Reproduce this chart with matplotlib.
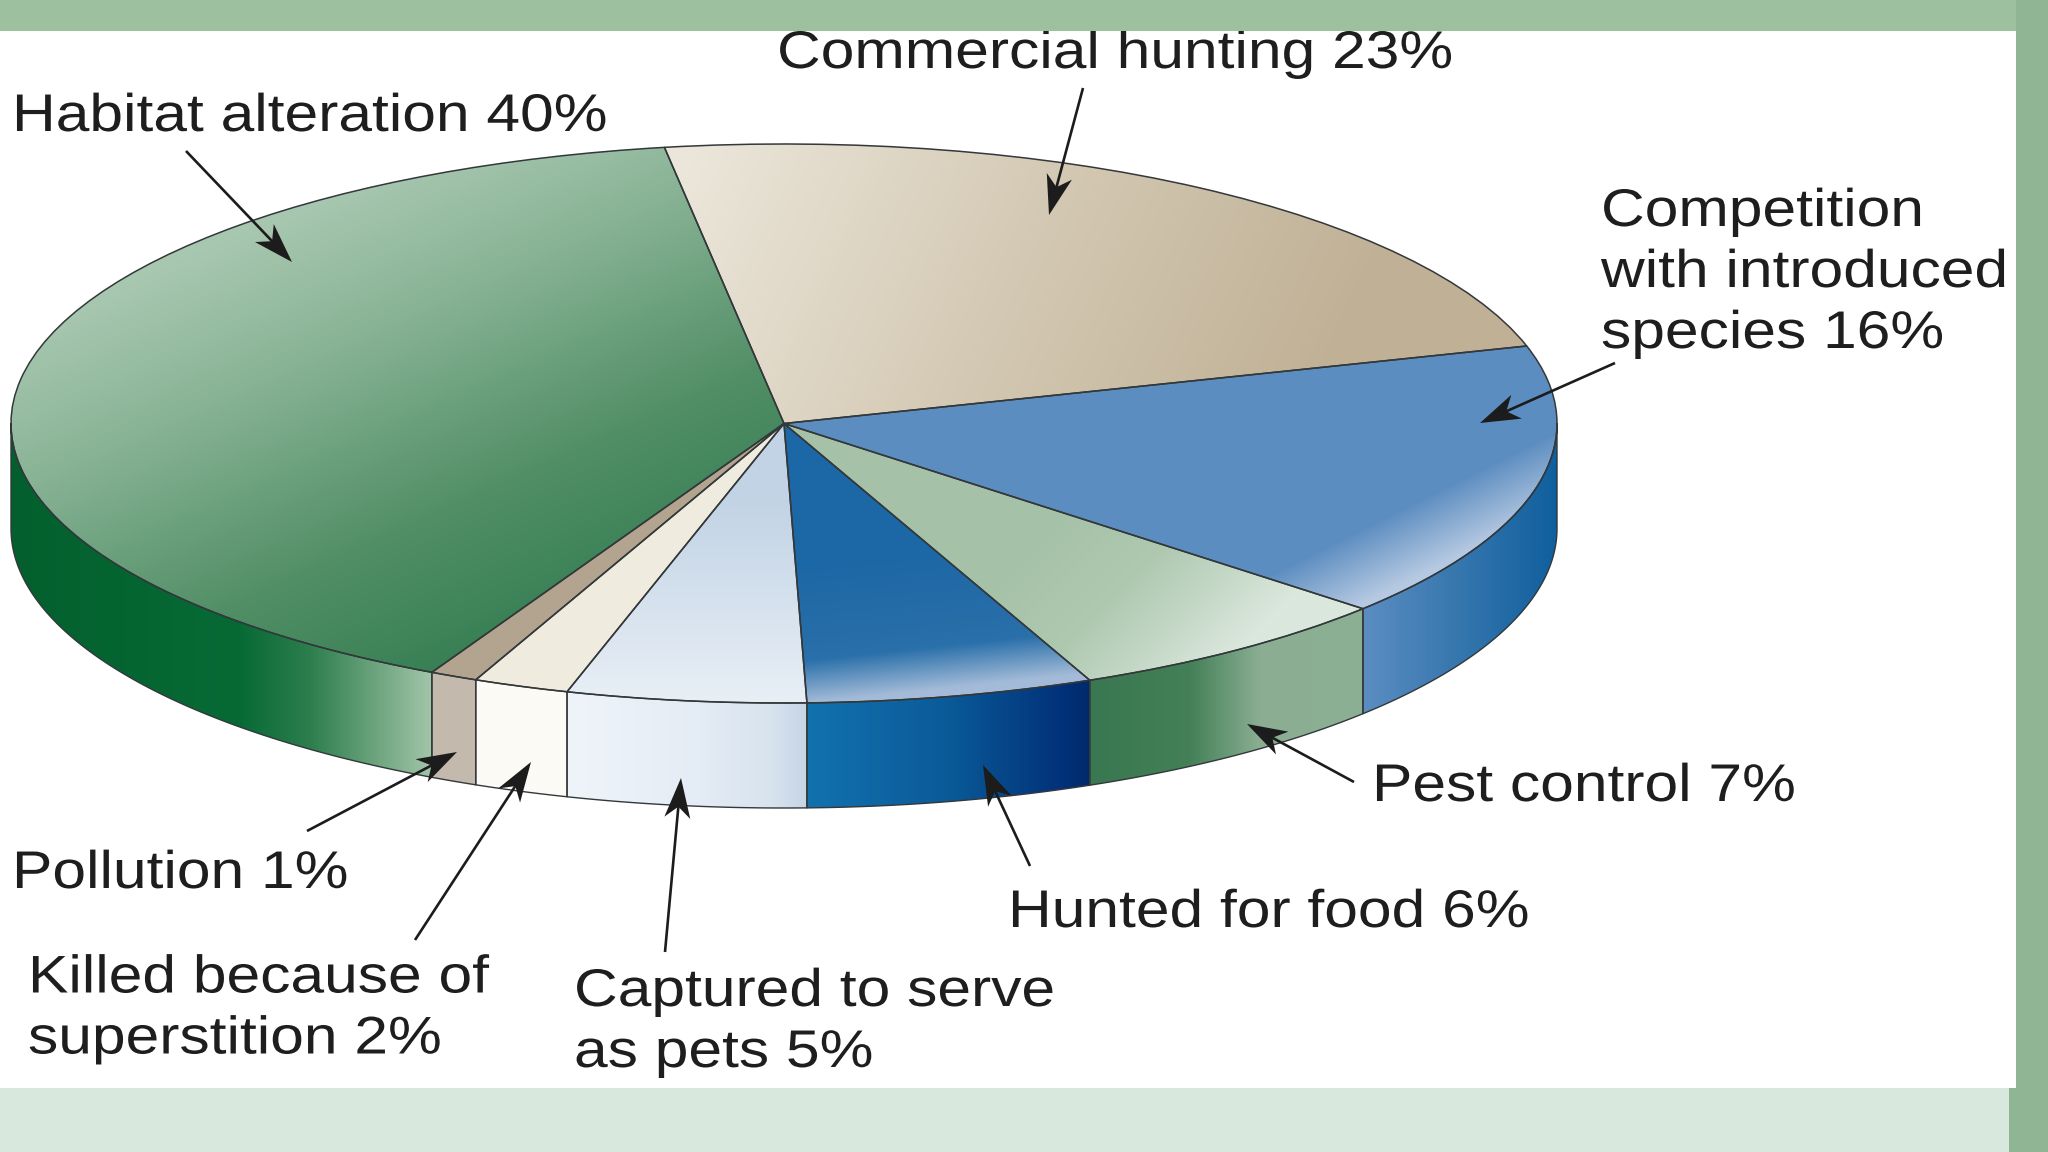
import numpy as np
import matplotlib
matplotlib.use("Agg")
import matplotlib.pyplot as plt
import matplotlib.patheffects as pe
from matplotlib.colors import to_rgb
from matplotlib.patches import Polygon, Rectangle
from matplotlib.transforms import Affine2D

# ---- data ----
slice_names = ["Commercial hunting", "Competition with introduced species", "Pest control",
               "Hunted for food", "Captured to serve as pets", "Killed because of superstition",
               "Pollution", "Habitat alteration"]
slice_values = [23, 16, 7, 6, 5, 2, 1, 40]

label_texts = ["Habitat alteration 40%", "Commercial hunting 23%",
               "Competition\nwith introduced\nspecies 16%", "Pest control 7%",
               "Hunted for food 6%", "Pollution 1%",
               "Killed because of\nsuperstition 2%", "Captured to serve\nas pets 5%"]

# ---- layout (pixels of the 2048x1152 canvas) ----
W, H = 2048, 1152
CX, CY, RX, RY, DEPTH = 784, 423.5, 773, 279.5, 105
START_ANGLE = 98.9
label_pos = [(12, 131), (777, 68), (1601, 226), (1372, 801),
             (1008, 927), (12, 888), (28, 992.5), (574, 1006)]
LINE_STEP = 61
arrows = [((186, 151), (292, 262)), ((1083, 88), (1049, 215)), ((1615, 363), (1480, 423)),
          ((1354, 782), (1247, 724)), ((1030, 866), (983, 765)), ((665, 952), (681, 778)),
          ((415, 940), (531, 762)), ((307, 831), (457, 752))]

# top-face gradients: p0, p1, colour stops
top_style = [
    ((700, 150), (1300, 430), [(0, "#ebe6da"), (0.5, "#d4c9b4"), (1, "#c0b196")]),
    ((1440, 490), (1470, 550), [(0, "#5c8dc0"), (1, "#b6c9e2")]),
    ((1010, 560), (1170, 720), [(0, "#a5c1a8"), (0.45, "#afc9b1"), (1, "#dbe8dd")]),
    ((820, 560), (835, 700), [(0, "#1c67a5"), (0.7, "#2a70aa"), (1, "#a3bbd8")]),
    ((700, 500), (700, 700), [(0, "#c2d3e5"), (1, "#e8eff6")]),
    ((500, 600), (500, 680), [(0, "#efebdf"), (1, "#efebdf")]),
    ((440, 600), (440, 670), [(0, "#b2a48f"), (1, "#b2a48f")]),
    ((430, 150), (650, 640), [(0, "#a8c7b0"), (0.26, "#88b395"), (0.62, "#528f67"), (1, "#2d794d")]),
]
# side-wall gradients along x
side_style = {
    1: [(1365, "#5b8dc2"), (1440, "#3d7bb1"), (1558, "#0f5f9e")],
    2: [(1095, "#3a7851"), (1190, "#438057"), (1260, "#8bae93"), (1365, "#8cb094")],
    3: [(808, "#1272ae"), (950, "#0a5a98"), (1060, "#02327a"), (1095, "#00296a")],
    4: [(570, "#eff4fa"), (700, "#e4ecf5"), (770, "#d8e3ee"), (808, "#c5d5e5")],
    5: [(480, "#fcfbf6"), (570, "#fcfbf6")],
    6: [(432, "#c4b9ad"), (480, "#c4b9ad")],
    7: [(10, "#03602e"), (240, "#076a35"), (310, "#2d7e4d"), (432, "#a3c5a9")],
}


def ramp(t, stops):
    xs = [s[0] for s in stops]
    cs = np.array([to_rgb(s[1]) for s in stops])
    return np.dstack([np.interp(t, xs, cs[:, i]) for i in range(3)])


px, py = np.meshgrid(np.arange(0, W, 2) + 1.0, np.arange(0, H, 2) + 1.0)
extent = [(0 - CX) / RX, (W - CX) / RX, (CY - H) / RY, CY / RY]

fig = plt.figure(figsize=(W / 100, H / 100), dpi=100)

# background layer
ax_bg = fig.add_axes([0, 0, 1, 1])
ax_bg.set_xlim(0, W)
ax_bg.set_ylim(H, 0)
ax_bg.axis("off")
ax_bg.add_patch(Rectangle((0, 0), W, 31, fc="#9dc09f", ec="none"))
ax_bg.add_patch(Rectangle((0, 1088), W, H - 1088, fc="#d9e8dc", ec="none"))
ax_bg.add_patch(Rectangle((2016, 0), 32, 1088, fc="#8fb594", ec="none"))
ax_bg.add_patch(Rectangle((2009, 1088), 39, H - 1088, fc="#8fb594", ec="none"))
white = Rectangle((0, 31), 2016, 1057, fc="white", ec="none")
ax_bg.add_patch(white)

# pie layer
ax = fig.add_axes([0, 0, 1, 1])
ax.patch.set_alpha(0)
base_cols = [st[2][0][1] for st in top_style]
wedges, _ = ax.pie(slice_values, startangle=START_ANGLE, counterclock=False, radius=1,
                   colors=base_cols, wedgeprops=dict(edgecolor="#33383a", linewidth=1.1, zorder=5))
ax.set_aspect("auto")
ax.set_xlim(extent[0], extent[1])
ax.set_ylim(extent[2], extent[3])
ax.axis("off")

for i, w in enumerate(wedges):
    p0, p1, stops = top_style[i]
    d = np.array(p1, float) - p0
    t = ((px - p0[0]) * d[0] + (py - p0[1]) * d[1]) / (d @ d)
    im = ax.imshow(ramp(t, stops), extent=extent, origin="upper", aspect="auto",
                   interpolation="bilinear", zorder=2)
    im.set_clip_path(w)
    w.set_facecolor("none")

    lo, hi = max(w.theta1, -180), min(w.theta2, 0)
    if hi > lo:
        a = np.radians(np.linspace(lo, hi, 120))
        dep = DEPTH / RY
        top = np.column_stack([np.cos(a), np.sin(a)])
        low = np.column_stack([np.cos(a[::-1]), np.sin(a[::-1]) - dep])
        wall = Polygon(np.vstack([top, low]), closed=True, fc="none", ec="#33383a",
                       lw=1.0, zorder=4, joinstyle="round")
        ax.add_patch(wall)
        sst = side_style[i]
        im2 = ax.imshow(ramp(px, sst), extent=extent, origin="upper", aspect="auto",
                        interpolation="bilinear", zorder=1)
        im2.set_clip_path(wall)
ax.set_xlim(extent[0], extent[1])
ax.set_ylim(extent[2], extent[3])

# annotation layer
ax_t = fig.add_axes([0, 0, 1, 1])
ax_t.patch.set_alpha(0)
ax_t.set_xlim(0, W)
ax_t.set_ylim(H, 0)
ax_t.axis("off")


class StretchX(pe.AbstractPathEffect):
    """Widens the glyphs about the text's left edge, as in the reference scan."""
    def __init__(self, x0, sx):
        super().__init__()
        self.x0, self.sx = x0, sx

    def draw_path(self, renderer, gc, tpath, affine, rgbFace=None):
        tr = affine + Affine2D().translate(-self.x0, 0).scale(self.sx, 1).translate(self.x0, 0)
        renderer.draw_path(gc, tpath, tr, rgbFace)


FONT_PT = 53 * 72 / 100
for txt, (x, y) in zip(label_texts, label_pos):
    for j, line in enumerate(txt.split("\n")):
        t = ax_t.text(x, y + j * LINE_STEP, line, family="Liberation Sans", fontsize=FONT_PT,
                      color="#1e1e1e", va="baseline", ha="left")
        t.set_path_effects([StretchX(x, 1.142)])
        t.set_clip_path(Rectangle((0, 31), 2016, 1057, transform=ax_t.transData))
        t.set_clip_on(True)

for tail, tip in arrows:
    tail, tip = np.array(tail, float), np.array(tip, float)
    u = (tip - tail) / np.linalg.norm(tip - tail)
    n = np.array([-u[1], u[0]])
    L, B = 40, 13
    ax_t.plot([tail[0], (tip - 0.6 * L * u)[0]], [tail[1], (tip - 0.6 * L * u)[1]],
              color="#1c1c1c", lw=1.9, solid_capstyle="butt")
    head = [tip, tip - L * u + B * n, tip - 0.72 * L * u, tip - L * u - B * n]
    ax_t.add_patch(Polygon(head, closed=True, fc="#1c1c1c", ec="none"))

fig.savefig("out.png", dpi=100)
